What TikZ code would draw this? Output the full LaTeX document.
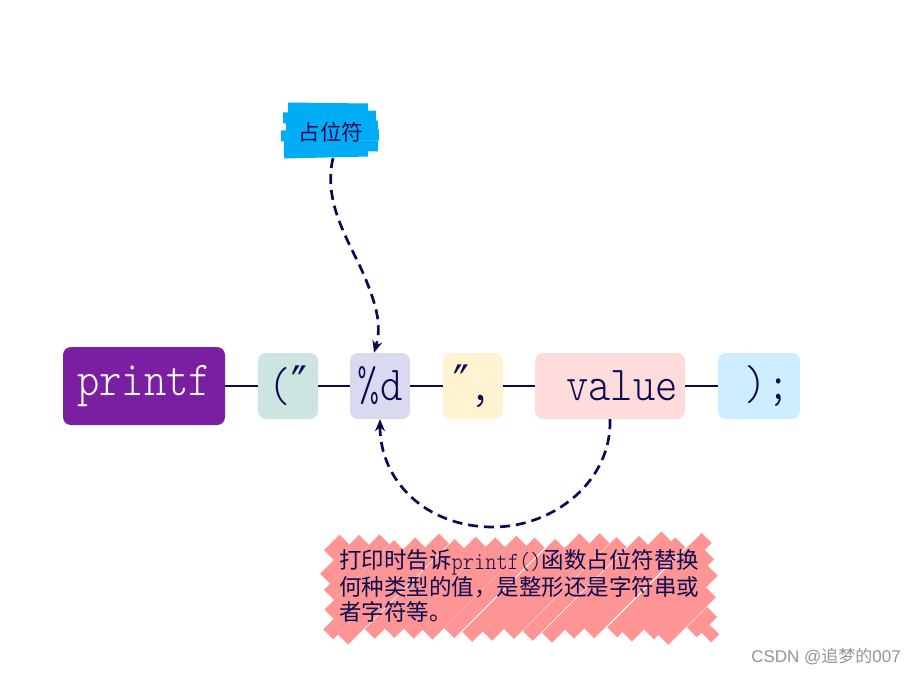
\documentclass[tikz,border=0pt]{standalone}
\usepackage{fontspec}
\usepackage{graphicx}
\newfontfamily\cjk{Noto Sans CJK SC}
\newfontfamily\wm{Liberation Sans}
\newfontfamily\qt{DejaVu Serif}
\newfontfamily\lt{Latin Modern Mono Light}
\usetikzlibrary{arrows.meta}
\definecolor{ink}{HTML}{0A0A50}
\definecolor{scrib}{HTML}{FF9494}
\definecolor{scribb}{HTML}{00ADF5}
\newcommand{\dq}{{\qt ″}}
\newcommand{\tall}[1]{\raisebox{-3pt}{\scalebox{1}[1.15]{#1}}}
\tikzset{
 tok/.style={rounded corners=8pt,inner sep=0pt,minimum height=66pt,text=ink,align=center,font=\fontsize{42.5}{46}\selectfont\lt},
 wire/.style={draw=ink,line width=2.8pt},
 call/.style={draw=ink,line width=2.7pt,dash pattern=on 10pt off 6pt,-{Stealth[length=12pt,width=10pt]}},
}
\begin{document}
\begin{tikzpicture}[x=1pt,y=-1pt]
\useasboundingbox (0,0) rectangle (915,674);
% scribble behind the note
\pgfmathsetseed{11}
\foreach \c in {882,902,...,1342}{
  \pgfmathsetmacro{\ca}{\c+rnd*3}
  \pgfmathsetmacro{\bot}{632+rnd*8}
  \pgfmathsetmacro{\tp}{536+rnd*10}
  \pgfmathsetmacro{\lf}{322+rnd*10}
  \pgfmathsetmacro{\rg}{708+rnd*8}
  \pgfmathsetmacro{\xa}{max(\lf,\ca-\bot)}
  \pgfmathsetmacro{\xb}{min(\rg,\ca-\tp)}
  \draw[scrib,line width=14.1pt] (\xa,\ca-\xa) -- (\xb,\ca-\xb);
}
% scribble behind the placeholder label
\foreach \xa/\ya/\xb/\yb in {288/108/368/109,283/118/376/116,286/127/378/126,281/136/379/135,284/145/378/146,284/153/368/151}{
  \draw[scribb,line width=11pt] (\xa,\ya) -- (\xb,\yb);
}
\node[text=ink,inner sep=0pt,minimum width=97pt,minimum height=52pt,font=\fontsize{21.5}{24}\selectfont\cjk] (ph) at (331,132) {占位符};
\node[text=ink,anchor=north west,inner sep=0pt,align=left,font=\fontsize{22.5}{25}\selectfont\cjk] (note) at (339,549)
 {打印时告诉{\fontsize{21.4}{25}\selectfont\lt\raisebox{-1.5pt}{\scalebox{1}[1.15]{printf()}}}函数占位符替换\\何种类型的值，是整形还是字符串或\\者字符等。};
% tokens
\node[tok,fill={rgb,255:red,123;green,31;blue,162},text=white,minimum width=162pt,minimum height=78pt] (pf) at (144,386) {\tall{printf}};
\node[tok,fill={rgb,255:red,204;green,229;blue,225},minimum width=60pt] (op) at (288,386) {\tall{(\dq}};
\node[tok,fill={rgb,255:red,217;green,218;blue,240},minimum width=60pt] (pd) at (380,386) {\tall{\%d}};
\node[tok,fill={rgb,255:red,255;green,243;blue,209},minimum width=60pt] (cm) at (473,386) {\tall{\dq,}};
\node[tok,fill={rgb,255:red,255;green,220;blue,220},minimum width=150pt] (va) at (610,386) {\hspace{24pt}\tall{value}};
\node[tok,fill={rgb,255:red,204;green,238;blue,255},minimum width=82pt] (cl) at (759,386) {\hspace{16pt}\tall{);}};
\draw[wire] (pf) -- (op);
\draw[wire] (op) -- (pd);
\draw[wire] (pd) -- (cm);
\draw[wire] (cm) -- (va);
\draw[wire] (va) -- (cl);
\coordinate (pdtop) at ([xshift=-6pt]pd.north);
\draw[call] ([xshift=2pt]ph.south) .. controls (322,205) and (352,245) .. (366,280) .. controls (376,305) and (382,325) .. (pdtop);
\draw[call] (va.south) .. controls (612,480) and (555,527) .. (493,527) .. controls (425,527) and (380,480) .. (pd.south);
\node[text=black!42,inner sep=0pt,anchor=east,font=\fontsize{17}{20}\selectfont\wm] (mark) at (901,656) {CSDN @{\cjk 追梦的}007};
\end{tikzpicture}
\end{document}
